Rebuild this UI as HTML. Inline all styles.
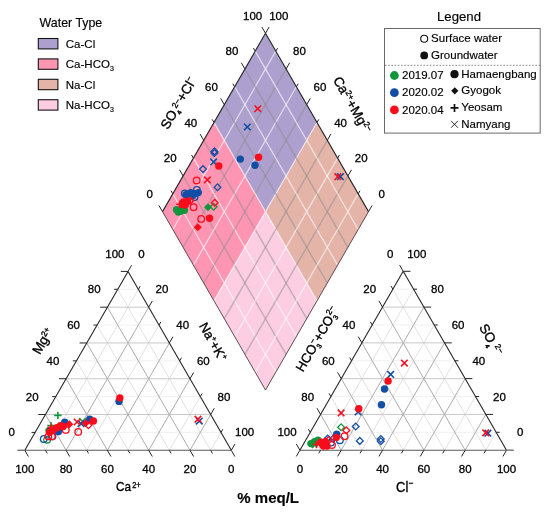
<!DOCTYPE html>
<html><head><meta charset="utf-8"><title>Piper diagram</title>
<style>
html,body{margin:0;padding:0;background:#fff;}
body{width:550px;height:512px;overflow:hidden;}
svg{display:block;filter:blur(0.35px);}
text{font-family:"Liberation Sans",sans-serif;fill:#000;stroke:#000;stroke-width:0.3px;}
.tk{font-size:11.5px;}
.ti{font-size:13.5px;stroke-width:0.35px;}
.lg{font-size:11.5px;stroke-width:0.15px;}
.hd{stroke-width:0.15px;}
.ti2{stroke-width:0.25px;}
</style></head><body>
<svg width="550" height="512" viewBox="0 0 550 512">
<rect width="550" height="512" fill="#ffffff"/>
<polygon points="265.5,33.3 317,122.48 265.5,211.65 214,122.47" fill="#ada0ce" />
<polygon points="214,122.47 265.5,211.65 214,300.82 162.5,211.65" fill="#fe96b3" />
<polygon points="317,122.48 368.5,211.65 317,300.82 265.5,211.65" fill="#e5b4a9" />
<polygon points="265.5,211.65 317,300.82 265.5,390 214,300.82" fill="#fdcde2" />
<line x1="172.8" y1="193.81" x2="275.8" y2="372.17" stroke="#ffffff" stroke-width="1.25" stroke-opacity="0.62"/>
<line x1="172.8" y1="229.49" x2="275.8" y2="51.14" stroke="#ffffff" stroke-width="1.25" stroke-opacity="0.62"/>
<line x1="183.1" y1="175.98" x2="286.1" y2="354.33" stroke="#8c8c8c" stroke-width="1.4" stroke-opacity="0.52"/>
<line x1="183.1" y1="247.32" x2="286.1" y2="68.97" stroke="#8c8c8c" stroke-width="1.4" stroke-opacity="0.52"/>
<line x1="193.4" y1="158.15" x2="296.4" y2="336.5" stroke="#ffffff" stroke-width="1.25" stroke-opacity="0.62"/>
<line x1="193.4" y1="265.15" x2="296.4" y2="86.81" stroke="#ffffff" stroke-width="1.25" stroke-opacity="0.62"/>
<line x1="203.7" y1="140.31" x2="306.7" y2="318.66" stroke="#8c8c8c" stroke-width="1.4" stroke-opacity="0.52"/>
<line x1="203.7" y1="282.99" x2="306.7" y2="104.64" stroke="#8c8c8c" stroke-width="1.4" stroke-opacity="0.52"/>
<line x1="214" y1="122.47" x2="317" y2="300.82" stroke="#ffffff" stroke-width="1.25" stroke-opacity="0.62"/>
<line x1="214" y1="300.82" x2="317" y2="122.48" stroke="#ffffff" stroke-width="1.25" stroke-opacity="0.62"/>
<line x1="224.3" y1="104.64" x2="327.3" y2="282.99" stroke="#8c8c8c" stroke-width="1.4" stroke-opacity="0.52"/>
<line x1="224.3" y1="318.66" x2="327.3" y2="140.31" stroke="#8c8c8c" stroke-width="1.4" stroke-opacity="0.52"/>
<line x1="234.6" y1="86.8" x2="337.6" y2="265.16" stroke="#ffffff" stroke-width="1.25" stroke-opacity="0.62"/>
<line x1="234.6" y1="336.5" x2="337.6" y2="158.15" stroke="#ffffff" stroke-width="1.25" stroke-opacity="0.62"/>
<line x1="244.9" y1="68.97" x2="347.9" y2="247.32" stroke="#8c8c8c" stroke-width="1.4" stroke-opacity="0.52"/>
<line x1="244.9" y1="354.33" x2="347.9" y2="175.98" stroke="#8c8c8c" stroke-width="1.4" stroke-opacity="0.52"/>
<line x1="255.2" y1="51.13" x2="358.2" y2="229.49" stroke="#ffffff" stroke-width="1.25" stroke-opacity="0.62"/>
<line x1="255.2" y1="372.16" x2="358.2" y2="193.81" stroke="#ffffff" stroke-width="1.25" stroke-opacity="0.62"/>
<polyline points="162.5,211.65 265.5,390 368.5,211.65" fill="none" stroke="#4a3c42" stroke-width="0.9"/>
<line x1="162.5" y1="211.65" x2="265.5" y2="33.3" stroke="#262626" stroke-width="1.1" />
<line x1="368.5" y1="211.65" x2="265.5" y2="33.3" stroke="#262626" stroke-width="1.1" />
<line x1="162.5" y1="211.65" x2="158.9" y2="205.41" stroke="#262626" stroke-width="1" />
<line x1="172.8" y1="193.81" x2="171" y2="190.7" stroke="#262626" stroke-width="1" />
<line x1="183.1" y1="175.98" x2="179.5" y2="169.74" stroke="#262626" stroke-width="1" />
<line x1="193.4" y1="158.15" x2="191.6" y2="155.03" stroke="#262626" stroke-width="1" />
<line x1="203.7" y1="140.31" x2="200.1" y2="134.07" stroke="#262626" stroke-width="1" />
<line x1="214" y1="122.47" x2="212.2" y2="119.36" stroke="#262626" stroke-width="1" />
<line x1="224.3" y1="104.64" x2="220.7" y2="98.4" stroke="#262626" stroke-width="1" />
<line x1="234.6" y1="86.8" x2="232.8" y2="83.69" stroke="#262626" stroke-width="1" />
<line x1="244.9" y1="68.97" x2="241.3" y2="62.73" stroke="#262626" stroke-width="1" />
<line x1="255.2" y1="51.13" x2="253.4" y2="48.02" stroke="#262626" stroke-width="1" />
<line x1="265.5" y1="33.3" x2="261.9" y2="27.06" stroke="#262626" stroke-width="1" />
<line x1="368.5" y1="211.65" x2="372.1" y2="205.41" stroke="#262626" stroke-width="1" />
<line x1="358.2" y1="193.81" x2="360" y2="190.7" stroke="#262626" stroke-width="1" />
<line x1="347.9" y1="175.98" x2="351.5" y2="169.74" stroke="#262626" stroke-width="1" />
<line x1="337.6" y1="158.15" x2="339.4" y2="155.03" stroke="#262626" stroke-width="1" />
<line x1="327.3" y1="140.31" x2="330.9" y2="134.07" stroke="#262626" stroke-width="1" />
<line x1="317" y1="122.47" x2="318.8" y2="119.36" stroke="#262626" stroke-width="1" />
<line x1="306.7" y1="104.64" x2="310.3" y2="98.4" stroke="#262626" stroke-width="1" />
<line x1="296.4" y1="86.8" x2="298.2" y2="83.69" stroke="#262626" stroke-width="1" />
<line x1="286.1" y1="68.97" x2="289.7" y2="62.73" stroke="#262626" stroke-width="1" />
<line x1="275.8" y1="51.13" x2="277.6" y2="48.02" stroke="#262626" stroke-width="1" />
<line x1="265.5" y1="33.3" x2="269.1" y2="27.06" stroke="#262626" stroke-width="1" />
<text x="149.6" y="198.07" text-anchor="middle" class="tk">0</text>
<text x="170.2" y="162.4" text-anchor="middle" class="tk">20</text>
<text x="190.8" y="126.73" text-anchor="middle" class="tk">40</text>
<text x="211.4" y="91.06" text-anchor="middle" class="tk">60</text>
<text x="232" y="55.39" text-anchor="middle" class="tk">80</text>
<text x="252.6" y="19.72" text-anchor="middle" class="tk">100</text>
<text x="381.8" y="198.07" text-anchor="middle" class="tk">0</text>
<text x="361.2" y="162.4" text-anchor="middle" class="tk">20</text>
<text x="340.6" y="126.73" text-anchor="middle" class="tk">40</text>
<text x="320" y="91.06" text-anchor="middle" class="tk">60</text>
<text x="299.4" y="55.39" text-anchor="middle" class="tk">80</text>
<text x="278.8" y="19.72" text-anchor="middle" class="tk">100</text>
<line x1="35.12" y1="432.41" x2="220.98" y2="432.41" stroke="#ececec" stroke-width="0.8" />
<line x1="45.45" y1="450.3" x2="138.38" y2="289.29" stroke="#dedede" stroke-width="0.9" />
<line x1="210.65" y1="450.3" x2="117.73" y2="289.29" stroke="#dedede" stroke-width="0.9" />
<line x1="55.78" y1="396.63" x2="200.33" y2="396.63" stroke="#ececec" stroke-width="0.8" />
<line x1="86.75" y1="450.3" x2="159.03" y2="325.07" stroke="#dedede" stroke-width="0.9" />
<line x1="169.35" y1="450.3" x2="97.08" y2="325.07" stroke="#dedede" stroke-width="0.9" />
<line x1="76.43" y1="360.85" x2="179.68" y2="360.85" stroke="#ececec" stroke-width="0.8" />
<line x1="128.05" y1="450.3" x2="179.68" y2="360.85" stroke="#dedede" stroke-width="0.9" />
<line x1="128.05" y1="450.3" x2="76.43" y2="360.85" stroke="#dedede" stroke-width="0.9" />
<line x1="97.08" y1="325.07" x2="159.03" y2="325.07" stroke="#ececec" stroke-width="0.8" />
<line x1="169.35" y1="450.3" x2="200.32" y2="396.63" stroke="#dedede" stroke-width="0.9" />
<line x1="86.75" y1="450.3" x2="55.78" y2="396.63" stroke="#dedede" stroke-width="0.9" />
<line x1="117.73" y1="289.29" x2="138.38" y2="289.29" stroke="#ececec" stroke-width="0.8" />
<line x1="210.65" y1="450.3" x2="220.98" y2="432.41" stroke="#dedede" stroke-width="0.9" />
<line x1="45.45" y1="450.3" x2="35.12" y2="432.41" stroke="#dedede" stroke-width="0.9" />
<line x1="45.45" y1="414.52" x2="210.65" y2="414.52" stroke="#c2c2c2" stroke-width="0.9" />
<line x1="66.1" y1="450.3" x2="148.7" y2="307.18" stroke="#adadad" stroke-width="1" />
<line x1="190" y1="450.3" x2="107.4" y2="307.18" stroke="#adadad" stroke-width="1" />
<line x1="66.1" y1="378.74" x2="190" y2="378.74" stroke="#c2c2c2" stroke-width="0.9" />
<line x1="107.4" y1="450.3" x2="169.35" y2="342.96" stroke="#adadad" stroke-width="1" />
<line x1="148.7" y1="450.3" x2="86.75" y2="342.96" stroke="#adadad" stroke-width="1" />
<line x1="86.75" y1="342.96" x2="169.35" y2="342.96" stroke="#c2c2c2" stroke-width="0.9" />
<line x1="148.7" y1="450.3" x2="190" y2="378.74" stroke="#adadad" stroke-width="1" />
<line x1="107.4" y1="450.3" x2="66.1" y2="378.74" stroke="#adadad" stroke-width="1" />
<line x1="107.4" y1="307.18" x2="148.7" y2="307.18" stroke="#c2c2c2" stroke-width="0.9" />
<line x1="190" y1="450.3" x2="210.65" y2="414.52" stroke="#adadad" stroke-width="1" />
<line x1="66.1" y1="450.3" x2="45.45" y2="414.52" stroke="#adadad" stroke-width="1" />
<line x1="310.23" y1="432.31" x2="496.17" y2="432.31" stroke="#ececec" stroke-width="0.8" />
<line x1="320.56" y1="450.2" x2="413.53" y2="289.19" stroke="#dedede" stroke-width="0.9" />
<line x1="485.84" y1="450.2" x2="392.87" y2="289.19" stroke="#dedede" stroke-width="0.9" />
<line x1="330.89" y1="396.53" x2="475.51" y2="396.53" stroke="#ececec" stroke-width="0.8" />
<line x1="361.88" y1="450.2" x2="434.19" y2="324.97" stroke="#dedede" stroke-width="0.9" />
<line x1="444.52" y1="450.2" x2="372.21" y2="324.97" stroke="#dedede" stroke-width="0.9" />
<line x1="351.55" y1="360.75" x2="454.85" y2="360.75" stroke="#ececec" stroke-width="0.8" />
<line x1="403.2" y1="450.2" x2="454.85" y2="360.75" stroke="#dedede" stroke-width="0.9" />
<line x1="403.2" y1="450.2" x2="351.55" y2="360.75" stroke="#dedede" stroke-width="0.9" />
<line x1="372.21" y1="324.97" x2="434.19" y2="324.97" stroke="#ececec" stroke-width="0.8" />
<line x1="444.52" y1="450.2" x2="475.51" y2="396.53" stroke="#dedede" stroke-width="0.9" />
<line x1="361.88" y1="450.2" x2="330.89" y2="396.53" stroke="#dedede" stroke-width="0.9" />
<line x1="392.87" y1="289.19" x2="413.53" y2="289.19" stroke="#ececec" stroke-width="0.8" />
<line x1="485.84" y1="450.2" x2="496.17" y2="432.31" stroke="#dedede" stroke-width="0.9" />
<line x1="320.56" y1="450.2" x2="310.23" y2="432.31" stroke="#dedede" stroke-width="0.9" />
<line x1="320.56" y1="414.42" x2="485.84" y2="414.42" stroke="#c2c2c2" stroke-width="0.9" />
<line x1="341.22" y1="450.2" x2="423.86" y2="307.08" stroke="#adadad" stroke-width="1" />
<line x1="465.18" y1="450.2" x2="382.54" y2="307.08" stroke="#adadad" stroke-width="1" />
<line x1="341.22" y1="378.64" x2="465.18" y2="378.64" stroke="#c2c2c2" stroke-width="0.9" />
<line x1="382.54" y1="450.2" x2="444.52" y2="342.86" stroke="#adadad" stroke-width="1" />
<line x1="423.86" y1="450.2" x2="361.88" y2="342.86" stroke="#adadad" stroke-width="1" />
<line x1="361.88" y1="342.86" x2="444.52" y2="342.86" stroke="#c2c2c2" stroke-width="0.9" />
<line x1="423.86" y1="450.2" x2="465.18" y2="378.64" stroke="#adadad" stroke-width="1" />
<line x1="382.54" y1="450.2" x2="341.22" y2="378.64" stroke="#adadad" stroke-width="1" />
<line x1="382.54" y1="307.08" x2="423.86" y2="307.08" stroke="#c2c2c2" stroke-width="0.9" />
<line x1="465.18" y1="450.2" x2="485.84" y2="414.42" stroke="#adadad" stroke-width="1" />
<line x1="341.22" y1="450.2" x2="320.56" y2="414.42" stroke="#adadad" stroke-width="1" />
<line x1="24.8" y1="450.3" x2="231.3" y2="450.3" stroke="#5a5a5a" stroke-width="1.1" />
<line x1="24.8" y1="450.3" x2="128.05" y2="271.4" stroke="#262626" stroke-width="1.1" />
<line x1="231.3" y1="450.3" x2="128.05" y2="271.4" stroke="#262626" stroke-width="1.1" />
<line x1="24.8" y1="450.3" x2="28.4" y2="456.54" stroke="#262626" stroke-width="1" />
<line x1="45.45" y1="450.3" x2="47.25" y2="453.42" stroke="#262626" stroke-width="1" />
<line x1="66.1" y1="450.3" x2="69.7" y2="456.54" stroke="#262626" stroke-width="1" />
<line x1="86.75" y1="450.3" x2="88.55" y2="453.42" stroke="#262626" stroke-width="1" />
<line x1="107.4" y1="450.3" x2="111" y2="456.54" stroke="#262626" stroke-width="1" />
<line x1="128.05" y1="450.3" x2="129.85" y2="453.42" stroke="#262626" stroke-width="1" />
<line x1="148.7" y1="450.3" x2="152.3" y2="456.54" stroke="#262626" stroke-width="1" />
<line x1="169.35" y1="450.3" x2="171.15" y2="453.42" stroke="#262626" stroke-width="1" />
<line x1="190" y1="450.3" x2="193.6" y2="456.54" stroke="#262626" stroke-width="1" />
<line x1="210.65" y1="450.3" x2="212.45" y2="453.42" stroke="#262626" stroke-width="1" />
<line x1="231.3" y1="450.3" x2="234.9" y2="456.54" stroke="#262626" stroke-width="1" />
<line x1="24.8" y1="450.3" x2="17.6" y2="450.3" stroke="#262626" stroke-width="1" />
<line x1="35.12" y1="432.41" x2="31.52" y2="432.41" stroke="#262626" stroke-width="1" />
<line x1="45.45" y1="414.52" x2="38.25" y2="414.52" stroke="#262626" stroke-width="1" />
<line x1="55.78" y1="396.63" x2="52.18" y2="396.63" stroke="#262626" stroke-width="1" />
<line x1="66.1" y1="378.74" x2="58.9" y2="378.74" stroke="#262626" stroke-width="1" />
<line x1="76.43" y1="360.85" x2="72.83" y2="360.85" stroke="#262626" stroke-width="1" />
<line x1="86.75" y1="342.96" x2="79.55" y2="342.96" stroke="#262626" stroke-width="1" />
<line x1="97.08" y1="325.07" x2="93.48" y2="325.07" stroke="#262626" stroke-width="1" />
<line x1="107.4" y1="307.18" x2="100.2" y2="307.18" stroke="#262626" stroke-width="1" />
<line x1="117.73" y1="289.29" x2="114.13" y2="289.29" stroke="#262626" stroke-width="1" />
<line x1="128.05" y1="271.4" x2="120.85" y2="271.4" stroke="#262626" stroke-width="1" />
<line x1="128.05" y1="271.4" x2="131.65" y2="265.16" stroke="#262626" stroke-width="1" />
<line x1="138.38" y1="289.29" x2="140.18" y2="286.17" stroke="#262626" stroke-width="1" />
<line x1="148.7" y1="307.18" x2="152.3" y2="300.94" stroke="#262626" stroke-width="1" />
<line x1="159.03" y1="325.07" x2="160.83" y2="321.95" stroke="#262626" stroke-width="1" />
<line x1="169.35" y1="342.96" x2="172.95" y2="336.72" stroke="#262626" stroke-width="1" />
<line x1="179.68" y1="360.85" x2="181.48" y2="357.73" stroke="#262626" stroke-width="1" />
<line x1="190" y1="378.74" x2="193.6" y2="372.5" stroke="#262626" stroke-width="1" />
<line x1="200.32" y1="396.63" x2="202.12" y2="393.51" stroke="#262626" stroke-width="1" />
<line x1="210.65" y1="414.52" x2="214.25" y2="408.28" stroke="#262626" stroke-width="1" />
<line x1="220.98" y1="432.41" x2="222.78" y2="429.29" stroke="#262626" stroke-width="1" />
<line x1="231.3" y1="450.3" x2="234.9" y2="444.06" stroke="#262626" stroke-width="1" />
<line x1="17.6" y1="450.3" x2="24.8" y2="450.3" stroke="#ffffff" stroke-width="1.6" />
<line x1="17.6" y1="450.3" x2="25.8" y2="450.3" stroke="#5a5a5a" stroke-width="1.1" />
<text x="24.8" y="473.42" text-anchor="middle" class="tk">100</text>
<text x="66.1" y="473.42" text-anchor="middle" class="tk">80</text>
<text x="107.4" y="473.42" text-anchor="middle" class="tk">60</text>
<text x="148.7" y="473.42" text-anchor="middle" class="tk">40</text>
<text x="190" y="473.42" text-anchor="middle" class="tk">20</text>
<text x="231.3" y="473.42" text-anchor="middle" class="tk">0</text>
<text x="11.6" y="436.42" text-anchor="middle" class="tk">0</text>
<text x="32.25" y="400.64" text-anchor="middle" class="tk">20</text>
<text x="52.9" y="364.86" text-anchor="middle" class="tk">40</text>
<text x="73.55" y="329.08" text-anchor="middle" class="tk">60</text>
<text x="94.2" y="293.3" text-anchor="middle" class="tk">80</text>
<text x="114.85" y="257.52" text-anchor="middle" class="tk">100</text>
<text x="141.35" y="257.52" text-anchor="middle" class="tk">0</text>
<text x="162" y="293.3" text-anchor="middle" class="tk">20</text>
<text x="182.65" y="329.08" text-anchor="middle" class="tk">40</text>
<text x="203.3" y="364.86" text-anchor="middle" class="tk">60</text>
<text x="223.95" y="400.64" text-anchor="middle" class="tk">80</text>
<text x="244.6" y="436.42" text-anchor="middle" class="tk">100</text>
<line x1="299.9" y1="450.2" x2="506.5" y2="450.2" stroke="#5a5a5a" stroke-width="1.1" />
<line x1="299.9" y1="450.2" x2="403.2" y2="271.3" stroke="#262626" stroke-width="1.1" />
<line x1="506.5" y1="450.2" x2="403.2" y2="271.3" stroke="#262626" stroke-width="1.1" />
<line x1="299.9" y1="450.2" x2="296.3" y2="456.44" stroke="#262626" stroke-width="1" />
<line x1="320.56" y1="450.2" x2="318.76" y2="453.32" stroke="#262626" stroke-width="1" />
<line x1="341.22" y1="450.2" x2="337.62" y2="456.44" stroke="#262626" stroke-width="1" />
<line x1="361.88" y1="450.2" x2="360.08" y2="453.32" stroke="#262626" stroke-width="1" />
<line x1="382.54" y1="450.2" x2="378.94" y2="456.44" stroke="#262626" stroke-width="1" />
<line x1="403.2" y1="450.2" x2="401.4" y2="453.32" stroke="#262626" stroke-width="1" />
<line x1="423.86" y1="450.2" x2="420.26" y2="456.44" stroke="#262626" stroke-width="1" />
<line x1="444.52" y1="450.2" x2="442.72" y2="453.32" stroke="#262626" stroke-width="1" />
<line x1="465.18" y1="450.2" x2="461.58" y2="456.44" stroke="#262626" stroke-width="1" />
<line x1="485.84" y1="450.2" x2="484.04" y2="453.32" stroke="#262626" stroke-width="1" />
<line x1="506.5" y1="450.2" x2="502.9" y2="456.44" stroke="#262626" stroke-width="1" />
<line x1="299.9" y1="450.2" x2="296.3" y2="443.96" stroke="#262626" stroke-width="1" />
<line x1="310.23" y1="432.31" x2="308.43" y2="429.19" stroke="#262626" stroke-width="1" />
<line x1="320.56" y1="414.42" x2="316.96" y2="408.18" stroke="#262626" stroke-width="1" />
<line x1="330.89" y1="396.53" x2="329.09" y2="393.41" stroke="#262626" stroke-width="1" />
<line x1="341.22" y1="378.64" x2="337.62" y2="372.4" stroke="#262626" stroke-width="1" />
<line x1="351.55" y1="360.75" x2="349.75" y2="357.63" stroke="#262626" stroke-width="1" />
<line x1="361.88" y1="342.86" x2="358.28" y2="336.62" stroke="#262626" stroke-width="1" />
<line x1="372.21" y1="324.97" x2="370.41" y2="321.85" stroke="#262626" stroke-width="1" />
<line x1="382.54" y1="307.08" x2="378.94" y2="300.84" stroke="#262626" stroke-width="1" />
<line x1="392.87" y1="289.19" x2="391.07" y2="286.07" stroke="#262626" stroke-width="1" />
<line x1="403.2" y1="271.3" x2="399.6" y2="265.06" stroke="#262626" stroke-width="1" />
<line x1="506.5" y1="450.2" x2="513.7" y2="450.2" stroke="#262626" stroke-width="1" />
<line x1="496.17" y1="432.31" x2="499.77" y2="432.31" stroke="#262626" stroke-width="1" />
<line x1="485.84" y1="414.42" x2="493.04" y2="414.42" stroke="#262626" stroke-width="1" />
<line x1="475.51" y1="396.53" x2="479.11" y2="396.53" stroke="#262626" stroke-width="1" />
<line x1="465.18" y1="378.64" x2="472.38" y2="378.64" stroke="#262626" stroke-width="1" />
<line x1="454.85" y1="360.75" x2="458.45" y2="360.75" stroke="#262626" stroke-width="1" />
<line x1="444.52" y1="342.86" x2="451.72" y2="342.86" stroke="#262626" stroke-width="1" />
<line x1="434.19" y1="324.97" x2="437.79" y2="324.97" stroke="#262626" stroke-width="1" />
<line x1="423.86" y1="307.08" x2="431.06" y2="307.08" stroke="#262626" stroke-width="1" />
<line x1="413.53" y1="289.19" x2="417.13" y2="289.19" stroke="#262626" stroke-width="1" />
<line x1="403.2" y1="271.3" x2="410.4" y2="271.3" stroke="#262626" stroke-width="1" />
<line x1="513.7" y1="450.2" x2="506.5" y2="450.2" stroke="#ffffff" stroke-width="1.6" />
<line x1="513.7" y1="450.2" x2="505.5" y2="450.2" stroke="#5a5a5a" stroke-width="1.1" />
<text x="299.9" y="473.42" text-anchor="middle" class="tk">0</text>
<text x="341.22" y="473.42" text-anchor="middle" class="tk">20</text>
<text x="382.54" y="473.42" text-anchor="middle" class="tk">40</text>
<text x="423.86" y="473.42" text-anchor="middle" class="tk">60</text>
<text x="465.18" y="473.42" text-anchor="middle" class="tk">80</text>
<text x="506.5" y="473.42" text-anchor="middle" class="tk">100</text>
<text x="390.3" y="257.52" text-anchor="middle" class="tk">0</text>
<text x="369.64" y="293.3" text-anchor="middle" class="tk">20</text>
<text x="348.98" y="329.08" text-anchor="middle" class="tk">40</text>
<text x="328.32" y="364.86" text-anchor="middle" class="tk">60</text>
<text x="307.66" y="400.64" text-anchor="middle" class="tk">80</text>
<text x="287" y="436.42" text-anchor="middle" class="tk">100</text>
<text x="520.1" y="436.42" text-anchor="middle" class="tk">0</text>
<text x="499.44" y="400.64" text-anchor="middle" class="tk">20</text>
<text x="478.78" y="364.86" text-anchor="middle" class="tk">40</text>
<text x="458.12" y="329.08" text-anchor="middle" class="tk">60</text>
<text x="437.46" y="293.3" text-anchor="middle" class="tk">80</text>
<text x="416.8" y="257.52" text-anchor="middle" class="tk">100</text>
<circle cx="49" cy="430.6" r="3.7" fill="#12963c"/>
<path d="M47.3 425.6L54.7 425.6M51 421.9L51 429.3" stroke="#12963c" stroke-width="1.6" fill="none"/>
<circle cx="47.1" cy="439.7" r="3.3" fill="none" stroke="#12963c" stroke-width="1.3"/>
<path d="M54.2 415.4L61.6 415.4M57.9 411.7L57.9 419.1" stroke="#12963c" stroke-width="1.6" fill="none"/>
<path d="M79.3 418.3L85.9 424.9M79.3 424.9L85.9 418.3" stroke="#12963c" stroke-width="1.6" fill="none"/>
<circle cx="43.8" cy="439" r="3.3" fill="none" stroke="#114ea4" stroke-width="1.3"/>
<circle cx="56.5" cy="429.5" r="3.7" fill="#114ea4"/>
<circle cx="58.5" cy="431.5" r="3.7" fill="#114ea4"/>
<circle cx="64.8" cy="422.3" r="3.7" fill="#114ea4"/>
<circle cx="52.5" cy="436.3" r="3.3" fill="none" stroke="#114ea4" stroke-width="1.3"/>
<path d="M77.7 420.3L84.3 426.9M77.7 426.9L84.3 420.3" stroke="#114ea4" stroke-width="1.6" fill="none"/>
<circle cx="89.7" cy="419.2" r="3.7" fill="#114ea4"/>
<circle cx="119.05" cy="401.4" r="3.7" fill="#114ea4"/>
<path d="M196 417.8L202.6 424.4M196 424.4L202.6 417.8" stroke="#114ea4" stroke-width="1.6" fill="none"/>
<circle cx="50.5" cy="431" r="3.7" fill="#114ea4"/>
<circle cx="49.6" cy="432.3" r="3.7" fill="#f80d1c"/>
<circle cx="53.1" cy="430" r="3.7" fill="#f80d1c"/>
<circle cx="56.8" cy="427.8" r="3.7" fill="#f80d1c"/>
<circle cx="60.5" cy="425.8" r="3.7" fill="#f80d1c"/>
<path d="M47.7 427.4L55.1 427.4M51.4 423.7L51.4 431.1" stroke="#f80d1c" stroke-width="1.6" fill="none"/>
<circle cx="63.2" cy="426.4" r="3.7" fill="#f80d1c"/>
<circle cx="48.4" cy="436.4" r="3.3" fill="none" stroke="#f80d1c" stroke-width="1.3"/>
<circle cx="51.8" cy="436.4" r="3.3" fill="none" stroke="#f80d1c" stroke-width="1.3"/>
<circle cx="65.8" cy="429.9" r="3.3" fill="none" stroke="#f80d1c" stroke-width="1.3"/>
<circle cx="78.2" cy="431.9" r="3.3" fill="none" stroke="#f80d1c" stroke-width="1.3"/>
<polygon points="69.3,420.3 73.3,424.3 69.3,428.3 65.3,424.3" fill="#f80d1c"/>
<path d="M73.8 418.7L80.4 425.3M73.8 425.3L80.4 418.7" stroke="#f80d1c" stroke-width="1.6" fill="none"/>
<polygon points="85.6,419.2 89.6,423.2 85.6,427.2 81.6,423.2" fill="#f80d1c"/>
<polygon points="88.4,421.9 91.8,425.3 88.4,428.7 85,425.3" fill="none" stroke="#f80d1c" stroke-width="1.3"/>
<circle cx="93.4" cy="421" r="3.7" fill="#f80d1c"/>
<circle cx="119.8" cy="397.9" r="3.7" fill="#f80d1c"/>
<path d="M194.7 415.9L201.3 422.5M194.7 422.5L201.3 415.9" stroke="#f80d1c" stroke-width="1.6" fill="none"/>
<circle cx="310.9" cy="443.6" r="3.7" fill="#12963c"/>
<circle cx="314.5" cy="441.8" r="3.7" fill="#12963c"/>
<circle cx="318" cy="440.3" r="3.7" fill="#12963c"/>
<polygon points="312.5,440.5 316.5,444.5 312.5,448.5 308.5,444.5" fill="#12963c"/>
<polygon points="316.5,439.5 320.5,443.5 316.5,447.5 312.5,443.5" fill="#12963c"/>
<polygon points="341.1,423.9 344.5,427.3 341.1,430.7 337.7,427.3" fill="none" stroke="#12963c" stroke-width="1.3"/>
<circle cx="336.7" cy="434.3" r="3.7" fill="#114ea4"/>
<circle cx="339.9" cy="440.2" r="3.3" fill="none" stroke="#114ea4" stroke-width="1.3"/>
<circle cx="331" cy="442.6" r="3.3" fill="none" stroke="#114ea4" stroke-width="1.3"/>
<polygon points="327.7,435.2 331.1,438.6 327.7,442 324.3,438.6" fill="none" stroke="#114ea4" stroke-width="1.3"/>
<polygon points="333,435.4 336.4,438.8 333,442.2 329.6,438.8" fill="none" stroke="#114ea4" stroke-width="1.3"/>
<polygon points="355.7,423.1 359.1,426.5 355.7,429.9 352.3,426.5" fill="none" stroke="#114ea4" stroke-width="1.3"/>
<polygon points="359.8,437.5 363.2,440.9 359.8,444.3 356.4,440.9" fill="none" stroke="#114ea4" stroke-width="1.3"/>
<polygon points="380.8,435.6 384.2,439 380.8,442.4 377.4,439" fill="none" stroke="#114ea4" stroke-width="1.3"/>
<polygon points="380.8,437.9 384.2,441.3 380.8,444.7 377.4,441.3" fill="none" stroke="#114ea4" stroke-width="1.3"/>
<path d="M354.8 408.7L361.4 415.3M354.8 415.3L361.4 408.7" stroke="#114ea4" stroke-width="1.6" fill="none"/>
<circle cx="381.5" cy="404.8" r="3.7" fill="#114ea4"/>
<circle cx="384.5" cy="389" r="3.7" fill="#114ea4"/>
<path d="M387.4 371.1L394 377.7M387.4 377.7L394 371.1" stroke="#114ea4" stroke-width="1.6" fill="none"/>
<path d="M484.6 429.9L491.2 436.5M484.6 436.5L491.2 429.9" stroke="#114ea4" stroke-width="1.6" fill="none"/>
<circle cx="320.9" cy="442.3" r="3.7" fill="#f80d1c"/>
<circle cx="325.5" cy="441.6" r="3.7" fill="#f80d1c"/>
<circle cx="322.9" cy="445.6" r="3.7" fill="#f80d1c"/>
<circle cx="327" cy="446" r="3.7" fill="#f80d1c"/>
<path d="M312.7 444.5L320.1 444.5M316.4 440.8L316.4 448.2" stroke="#f80d1c" stroke-width="1.6" fill="none"/>
<polygon points="323.5,442.5 327.5,446.5 323.5,450.5 319.5,446.5" fill="#f80d1c"/>
<polygon points="328.5,436.6 331.9,440 328.5,443.4 325.1,440" fill="none" stroke="#f80d1c" stroke-width="1.3"/>
<circle cx="332" cy="445" r="3.3" fill="none" stroke="#f80d1c" stroke-width="1.3"/>
<circle cx="336.3" cy="437.4" r="3.7" fill="#f80d1c"/>
<circle cx="344.6" cy="436.2" r="3.3" fill="none" stroke="#f80d1c" stroke-width="1.3"/>
<polygon points="346.3,427 349.7,430.4 346.3,433.8 342.9,430.4" fill="none" stroke="#f80d1c" stroke-width="1.3"/>
<path d="M337.8 409.6L344.4 416.2M337.8 416.2L344.4 409.6" stroke="#f80d1c" stroke-width="1.6" fill="none"/>
<circle cx="358.8" cy="408.7" r="3.7" fill="#f80d1c"/>
<circle cx="388.1" cy="381" r="3.7" fill="#f80d1c"/>
<path d="M401.1 359.8L407.7 366.4M401.1 366.4L407.7 359.8" stroke="#f80d1c" stroke-width="1.6" fill="none"/>
<path d="M482.4 429.5L489 436.1M482.4 436.1L489 429.5" stroke="#f80d1c" stroke-width="1.6" fill="none"/>
<circle cx="176.6" cy="209.7" r="3.7" fill="#12963c"/>
<circle cx="180.5" cy="211.2" r="3.7" fill="#12963c"/>
<circle cx="184.4" cy="210.3" r="3.7" fill="#12963c"/>
<circle cx="178.4" cy="212" r="3.7" fill="#12963c"/>
<circle cx="182" cy="208.5" r="3.7" fill="#12963c"/>
<polygon points="208,203.2 212,207.2 208,211.2 204,207.2" fill="#12963c"/>
<polygon points="213.6,203.4 217,206.8 213.6,210.2 210.2,206.8" fill="none" stroke="#12963c" stroke-width="1.3"/>
<circle cx="186" cy="194.8" r="3.7" fill="#114ea4"/>
<circle cx="190.7" cy="192.7" r="3.7" fill="#114ea4"/>
<circle cx="194.6" cy="193.7" r="3.7" fill="#114ea4"/>
<circle cx="198.3" cy="192.6" r="3.7" fill="#114ea4"/>
<circle cx="196.9" cy="190" r="3.3" fill="none" stroke="#114ea4" stroke-width="1.3"/>
<circle cx="194.6" cy="197" r="3.3" fill="none" stroke="#114ea4" stroke-width="1.3"/>
<circle cx="184.8" cy="193.5" r="3.3" fill="none" stroke="#114ea4" stroke-width="1.3"/>
<circle cx="192.5" cy="195.5" r="3.7" fill="#114ea4"/>
<polygon points="214.5,148 217.9,151.4 214.5,154.8 211.1,151.4" fill="none" stroke="#114ea4" stroke-width="1.3"/>
<polygon points="214.5,149.6 217.9,153 214.5,156.4 211.1,153" fill="none" stroke="#114ea4" stroke-width="1.3"/>
<path d="M210.3 158.6L216.9 165.2M210.3 165.2L216.9 158.6" stroke="#114ea4" stroke-width="1.6" fill="none"/>
<polygon points="203,165.7 206.4,169.1 203,172.5 199.6,169.1" fill="none" stroke="#114ea4" stroke-width="1.3"/>
<polygon points="217.5,183.9 220.9,187.3 217.5,190.7 214.1,187.3" fill="none" stroke="#114ea4" stroke-width="1.3"/>
<circle cx="240.3" cy="159.1" r="3.7" fill="#114ea4"/>
<circle cx="255" cy="165.3" r="3.7" fill="#114ea4"/>
<path d="M244 123.7L250.6 130.3M244 130.3L250.6 123.7" stroke="#114ea4" stroke-width="1.6" fill="none"/>
<path d="M337.1 173.4L343.7 180M337.1 180L343.7 173.4" stroke="#114ea4" stroke-width="1.6" fill="none"/>
<circle cx="183.6" cy="201.9" r="3.7" fill="#f80d1c"/>
<circle cx="187.5" cy="201.3" r="3.7" fill="#f80d1c"/>
<circle cx="185.2" cy="205" r="3.7" fill="#f80d1c"/>
<polygon points="190.3,197.3 193.7,200.7 190.3,204.1 186.9,200.7" fill="none" stroke="#f80d1c" stroke-width="1.3"/>
<path d="M176.2 204.3L183.6 204.3M179.9 200.6L179.9 208" stroke="#f80d1c" stroke-width="1.6" fill="none"/>
<circle cx="182" cy="204.5" r="3.7" fill="#f80d1c"/>
<circle cx="193.6" cy="207.2" r="3.3" fill="none" stroke="#f80d1c" stroke-width="1.3"/>
<circle cx="196.7" cy="180.4" r="3.3" fill="none" stroke="#f80d1c" stroke-width="1.3"/>
<path d="M204 176.6L210.6 183.2M204 183.2L210.6 176.6" stroke="#f80d1c" stroke-width="1.6" fill="none"/>
<circle cx="218.8" cy="166" r="3.7" fill="#f80d1c"/>
<polygon points="214.7,199.3 218.1,202.7 214.7,206.1 211.3,202.7" fill="none" stroke="#f80d1c" stroke-width="1.3"/>
<circle cx="201.2" cy="218.9" r="3.3" fill="none" stroke="#f80d1c" stroke-width="1.3"/>
<circle cx="209.5" cy="218.3" r="3.7" fill="#f80d1c"/>
<polygon points="197.8,223.2 201.8,227.2 197.8,231.2 193.8,227.2" fill="#f80d1c"/>
<circle cx="258.6" cy="157.2" r="3.7" fill="#f80d1c"/>
<path d="M254.5 105.45L261.1 112.05M254.5 112.05L261.1 105.45" stroke="#f80d1c" stroke-width="1.6" fill="none"/>
<path d="M334.5 173.4L341.1 180M334.5 180L341.1 173.4" stroke="#f80d1c" stroke-width="1.6" fill="none"/>
<text transform="translate(182.4 105.4) rotate(-60)" text-anchor="middle" class="ti">SO<tspan font-size="6" font-weight="bold" dy="3">4</tspan><tspan font-size="8.2" dy="-6.7">2−</tspan><tspan dy="3.7">+Cl</tspan><tspan font-size="8.2" dy="-5">−</tspan></text>
<text transform="translate(348.3 107) rotate(60)" text-anchor="middle" class="ti">Ca<tspan font-size="8.2" dy="-4.5">2+</tspan><tspan dy="4.5">+Mg</tspan><tspan font-size="8.2" dy="-4.5">2−</tspan></text>
<text transform="translate(46.7 343.2) rotate(-60)" text-anchor="middle" class="ti">Mg<tspan font-size="8.2" dy="-4">2+</tspan></text>
<text transform="translate(209.2 344) rotate(60)" text-anchor="middle" class="ti" style="font-size:13.1px">Na<tspan font-size="7.6" dy="-4.5">+</tspan><tspan dy="4.5">+K</tspan><tspan font-size="7.6" dy="-4.5">+</tspan></text>
<text transform="translate(321.2 341.3) rotate(-60)" text-anchor="middle" class="ti" style="font-size:13.1px">HCO<tspan font-size="7" dy="3">3</tspan><tspan font-size="8.2" dy="-8" dx="-3">−</tspan><tspan dy="5">+CO</tspan><tspan font-size="7" dy="3">3</tspan><tspan font-size="8.2" dy="-8" dx="-3">2−</tspan></text>
<text transform="translate(487 341.8) rotate(60)" text-anchor="middle" class="ti">SO<tspan font-size="6" font-weight="bold" dy="4" dx="-0.5">4</tspan><tspan font-size="8.2" dy="-8.5" dx="1.8">2−</tspan></text>
<text transform="translate(116 490.7) scale(0.87 1)" class="ti">Ca<tspan font-size="8.6" dy="-2.3" dx="1.3">2+</tspan></text>
<text transform="translate(396 491.5) scale(0.92 1)" font-size="14.2" class="ti" style="font-size:14.2px">Cl<tspan font-size="9" dy="-5.5" dx="0.3">−</tspan></text>
<text x="268.2" y="503" text-anchor="middle" font-size="15" font-weight="bold" class="hd">% meq/L</text>
<text x="39.6" y="26.8" font-size="12.4" class="hd">Water Type</text>
<rect x="38.3" y="38.5" width="19.6" height="10.4" fill="#ada0ce" stroke="#141414" stroke-width="1.1"/>
<text x="65.8" y="47.8" class="lg">Ca-Cl</text>
<rect x="38.3" y="58.9" width="19.6" height="10.4" fill="#fe96b3" stroke="#141414" stroke-width="1.1"/>
<text x="65.8" y="68.2" class="lg">Ca-HCO<tspan font-size="7" dy="3">3</tspan></text>
<rect x="38.3" y="79.3" width="19.6" height="10.4" fill="#e5b4a9" stroke="#141414" stroke-width="1.1"/>
<text x="65.8" y="88.6" class="lg">Na-Cl</text>
<rect x="38.3" y="99.7" width="19.6" height="10.4" fill="#fdcde2" stroke="#141414" stroke-width="1.1"/>
<text x="65.8" y="109" class="lg">Na-HCO<tspan font-size="7" dy="3">3</tspan></text>
<text x="437" y="20.5" font-size="13.2" class="hd">Legend</text>
<rect x="384.5" y="28.5" width="155.7" height="104.6" fill="none" stroke="#6a6a6a" stroke-width="1"/>
<line x1="385" y1="65.3" x2="540" y2="65.3" stroke="#7a7a7a" stroke-width="0.9" stroke-dasharray="1.6 1.6"/>
<circle cx="424.2" cy="38.8" r="3.5" fill="#fff" stroke="#111" stroke-width="1.1"/>
<text x="431.1" y="41.8" class="lg">Surface water</text>
<circle cx="424.2" cy="55.4" r="3.9" fill="#111"/>
<text x="431.1" y="58.5" class="lg">Groundwater</text>
<circle cx="394.4" cy="75.5" r="4.4" fill="#12963c"/>
<text x="402" y="79.1" class="lg">2019.07</text>
<circle cx="394.4" cy="92.7" r="4.4" fill="#114ea4"/>
<text x="402" y="96.3" class="lg">2020.02</text>
<circle cx="394.4" cy="109.9" r="4.4" fill="#f80d1c"/>
<text x="402" y="113.6" class="lg">2020.04</text>
<circle cx="454.5" cy="74.2" r="4.1" fill="#111"/>
<text x="461.3" y="77.5" class="lg">Hamaengbang</text>
<polygon points="454.8,87.2 458.4,90.8 454.8,94.4 451.2,90.8" fill="#111"/>
<text x="461.3" y="94.4" class="lg">Gyogok</text>
<path d="M450.5 107.9H458.5M454.5 103.9V111.9" stroke="#111" stroke-width="1.7" fill="none"/>
<text x="461.3" y="111.2" class="lg">Yeosam</text>
<path d="M451.1 120.9L457.9 127.7M451.1 127.7L457.9 120.9" stroke="#111" stroke-width="0.9" fill="none"/>
<text x="461.3" y="127.6" class="lg">Namyang</text>
</svg>
</body></html>
